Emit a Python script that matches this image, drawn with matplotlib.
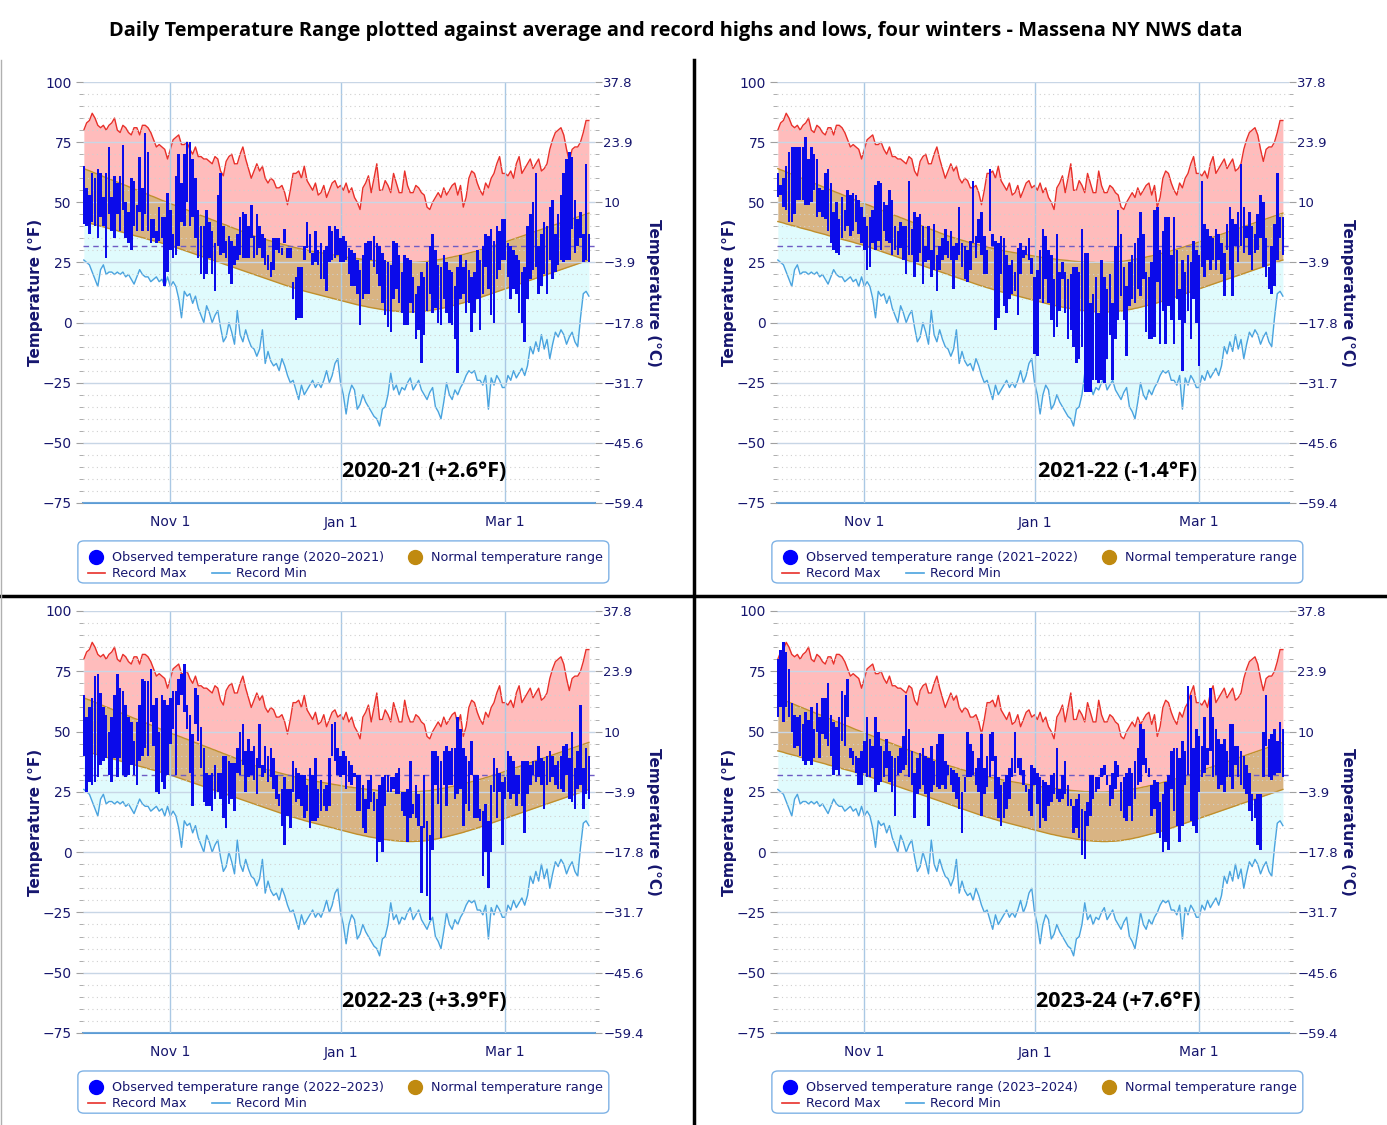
import numpy as np
import matplotlib
matplotlib.use("Agg")
import matplotlib.pyplot as plt
from matplotlib.patches import FancyBboxPatch
from matplotlib.lines import Line2D
from matplotlib.ticker import MultipleLocator

# day index 0 = Oct 1 ... 181 = Mar 31
rec_max = ([80, 83, 84, 87, 85, 82, 81, 82, 80, 82, 83, 85, 80, 79, 82, 81, 79, 78, 81, 81, 78, 82, 82, 81, 79, 76, 73, 74, 73, 72, 68]
           + [72, 76, 77, 78, 74, 74, 75, 72, 70, 73, 69, 69, 68, 68, 67, 66, 69, 68, 63, 61, 67, 69, 70, 66, 66, 70, 73, 68, 64, 60]
           + [63, 66, 63, 65, 60, 58, 60, 59, 56, 56, 57, 54, 49, 55, 62, 62, 63, 60, 65, 59, 57, 55, 58, 53, 54, 57, 52, 55, 58, 59, 56]
           + [57, 55, 58, 54, 56, 52, 50, 47, 56, 58, 61, 54, 60, 66, 55, 55, 59, 57, 54, 62, 58, 54, 54, 63, 57, 54, 54, 57, 56, 54, 53]
           + [48, 47, 50, 52, 54, 52, 56, 53, 55, 57, 58, 53, 57, 48, 52, 60, 63, 62, 58, 55, 53, 58, 56, 60, 62, 66, 69, 62]
           + [62, 61, 63, 60, 66, 69, 62, 64, 66, 68, 64, 66, 68, 63, 64, 66, 72, 76, 79, 80, 81, 78, 72, 67, 72, 73, 73, 75, 79, 84, 84])

rec_min = ([26, 25, 24, 21, 18, 15, 22, 24, 20, 21, 21, 20, 21, 20, 21, 19, 20, 18, 16, 19, 22, 20, 19, 19, 17, 18, 19, 17, 18, 15, 19]
           + [15, 17, 15, 10, 2, 13, 11, 12, 8, 11, 6, 3, 0, 7, 4, 0, 3, 5, -2, -8, -6, 0, -4, -9, 5, -5, -8, -3, -7, -10]
           + [-11, -14, -11, -3, -17, -12, -16, -18, -17, -20, -15, -18, -22, -25, -24, -28, -32, -26, -30, -28, -26, -24, -27, -25, -27, -24, -20, -25, -22, -17, -15]
           + [-25, -30, -38, -30, -26, -28, -36, -34, -30, -33, -35, -37, -39, -40, -43, -36, -35, -30, -21, -28, -26, -30, -27, -28, -25, -23, -28, -26, -24, -28, -30]
           + [-32, -29, -27, -35, -37, -40, -33, -25, -30, -32, -28, -30, -27, -25, -22, -20, -21, -20, -24, -24, -26, -22, -36, -23, -26, -22, -24, -27]
           + [-27, -22, -24, -20, -23, -21, -19, -22, -18, -10, -13, -8, -12, -5, -11, -7, -15, -9, -4, -6, -3, -5, -9, -6, -4, -8, -10, 2, 12, 13, 11])

norm_hi = ([64.0, 63.5, 63.1, 62.6, 62.1, 61.7, 61.2, 60.7, 60.2, 59.8, 59.3, 58.8, 58.4, 57.9, 57.4, 57.0, 56.5, 56.0, 55.5, 55.1, 54.6, 54.1, 53.7, 53.2, 52.7, 52.3, 51.8, 51.3, 50.8, 50.4, 49.9]
           + [49.5, 49.0, 48.6, 48.1, 47.7, 47.2, 46.8, 46.3, 45.9, 45.4, 45.0, 44.5, 44.1, 43.6, 43.2, 42.7, 42.3, 41.8, 41.4, 40.9, 40.5, 40.0, 39.6, 39.1, 38.7, 38.2, 37.8, 37.3, 36.9, 36.4]
           + [36.0, 35.6, 35.3, 34.9, 34.6, 34.2, 33.9, 33.5, 33.2, 32.9, 32.6, 32.3, 32.0, 31.7, 31.4, 31.1, 30.8, 30.6, 30.3, 30.1, 29.8, 29.6, 29.4, 29.2, 29.0, 28.8, 28.6, 28.4, 28.2, 28.0, 27.8]
           + [27.6, 27.4, 27.2, 27.0, 26.9, 26.7, 26.6, 26.4, 26.3, 26.1, 26.0, 25.9, 25.8, 25.6, 25.5, 25.4, 25.3, 25.2, 25.1, 25.1, 25.0, 25.0, 24.9, 24.9, 24.9, 24.9, 25.0, 25.0, 25.1, 25.2, 25.3]
           + [25.4, 25.5, 25.7, 25.9, 26.1, 26.3, 26.5, 26.7, 27.0, 27.2, 27.5, 27.7, 28.0, 28.3, 28.6, 28.9, 29.2, 29.5, 29.8, 30.2, 30.5, 30.9, 31.2, 31.6, 32.0, 32.3, 32.7, 33.1]
           + [33.5, 33.9, 34.3, 34.7, 35.1, 35.5, 35.9, 36.3, 36.7, 37.1, 37.5, 37.9, 38.3, 38.7, 39.1, 39.5, 39.9, 40.3, 40.7, 41.1, 41.5, 41.9, 42.3, 42.7, 43.1, 43.5, 43.9, 44.3, 44.7, 45.1, 45.5])

norm_lo = ([42.0, 41.7, 41.4, 41.0, 40.7, 40.4, 40.1, 39.8, 39.4, 39.1, 38.8, 38.5, 38.2, 37.8, 37.5, 37.2, 36.9, 36.6, 36.2, 35.9, 35.6, 35.3, 35.0, 34.6, 34.3, 34.0, 33.7, 33.4, 33.0, 32.7, 32.4]
           + [32.0, 31.6, 31.2, 30.8, 30.4, 30.0, 29.6, 29.2, 28.8, 28.4, 28.0, 27.6, 27.2, 26.8, 26.4, 26.0, 25.6, 25.2, 24.8, 24.4, 24.0, 23.6, 23.2, 22.8, 22.4, 22.0, 21.6, 21.2, 20.8, 20.4]
           + [20.0, 19.6, 19.2, 18.8, 18.4, 18.0, 17.6, 17.2, 16.8, 16.4, 16.0, 15.6, 15.2, 14.9, 14.5, 14.2, 13.8, 13.5, 13.1, 12.8, 12.5, 12.2, 11.9, 11.6, 11.3, 11.0, 10.7, 10.4, 10.1, 9.8, 9.5]
           + [9.2, 8.9, 8.6, 8.3, 8.0, 7.7, 7.4, 7.2, 6.9, 6.7, 6.4, 6.2, 6.0, 5.8, 5.6, 5.4, 5.2, 5.1, 4.9, 4.8, 4.7, 4.6, 4.5, 4.5, 4.4, 4.4, 4.4, 4.5, 4.5, 4.6, 4.7]
           + [4.8, 5.0, 5.2, 5.4, 5.6, 5.9, 6.1, 6.4, 6.7, 7.0, 7.3, 7.6, 7.9, 8.2, 8.6, 8.9, 9.3, 9.6, 10.0, 10.4, 10.8, 11.2, 11.6, 12.0, 12.4, 12.8, 13.2, 13.6]
           + [14.0, 14.4, 14.8, 15.2, 15.6, 16.0, 16.4, 16.8, 17.2, 17.6, 18.0, 18.4, 18.8, 19.2, 19.6, 20.0, 20.4, 20.8, 21.2, 21.6, 22.0, 22.4, 22.8, 23.2, 23.6, 24.0, 24.4, 24.8, 25.2, 25.6, 26.0])

hi_2021 = ([65, 56, 53, 62, 60, 64, 62, 52, 62, 73, 52, 61, 58, 61, 74, 50, 46, 60, 59, 49, 69, 56, 79, 71, 43, 43, 38, 48, 44, 44, 54]
           + [47, 37, 61, 70, 58, 70, 75, 75, 68, 60, 47, 40, 40, 47, 42, 38, 33, 53, 62, 40, 34, 36, 34, 32, 37, 44, 46, 45, 40, 49]
           + [36, 45, 40, 37, 35, 28, 25, 35, 35, 35, 31, 39, 31, 31, 17, 19, 23, 23, 32, 42, 37, 29, 38, 30, 33, 30, 32, 40, 38, 40, 39]
           + [35, 36, 34, 31, 30, 29, 26, 22, 28, 33, 34, 34, 36, 33, 32, 29, 26, 25, 24, 34, 33, 28, 21, 28, 27, 26, 19, 12, 15, 21, 19]
           + [25, 32, 37, 30, 24, 23, 28, 25, 22, 21, 15, 23, 28, 23, 26, 22, 19, 21, 30, 26, 32, 37, 36, 39, 34, 40, 38, 43]
           + [43, 33, 32, 30, 28, 26, 21, 23, 40, 45, 50, 62, 32, 37, 42, 40, 48, 51, 37, 45, 53, 62, 68, 71, 69, 51, 43, 46, 37, 66, 37])
lo_2021 = ([41, 40, 37, 42, 40, 35, 44, 40, 27, 45, 38, 35, 45, 38, 47, 35, 33, 30, 40, 38, 46, 38, 45, 38, 33, 35, 33, 34, 35, 15, 21]
           + [30, 27, 28, 32, 42, 40, 50, 40, 44, 35, 27, 20, 18, 20, 27, 20, 13, 32, 28, 29, 27, 20, 16, 24, 26, 28, 27, 27, 27, 35]
           + [27, 28, 31, 27, 24, 22, 19, 22, 30, 29, 28, 33, 27, 27, 10, 1, 2, 2, 26, 31, 29, 24, 25, 24, 18, 18, 13, 25, 26, 27, 28]
           + [25, 25, 26, 20, 15, 15, 12, -1, 10, 12, 12, 26, 23, 20, 15, 8, 3, -2, -4, 10, 14, 8, 4, -1, -1, 8, 4, -7, -3, -17, -5]
           + [5, 12, 4, 6, 0, -1, 10, 4, 0, -1, -7, -21, 10, 12, 4, 8, -4, 4, 10, -3, 12, 23, 14, 3, 0, 18, 22, 26]
           + [26, 19, 10, 14, 12, 4, 0, -8, 10, 18, 22, 23, 12, 15, 20, 12, 26, 18, 21, 24, 26, 25, 26, 26, 39, 29, 32, 35, 25, 26, 25])

hi_2122 = ([62, 57, 60, 65, 71, 73, 73, 73, 73, 73, 77, 68, 73, 70, 68, 56, 55, 62, 64, 58, 46, 50, 43, 52, 47, 55, 53, 54, 53, 51, 48]
           + [44, 40, 44, 47, 57, 59, 58, 50, 49, 55, 51, 40, 38, 42, 40, 40, 59, 39, 46, 44, 45, 40, 32, 40, 30, 41, 28, 32, 35, 39]
           + [34, 38, 32, 33, 48, 33, 32, 30, 34, 59, 36, 43, 46, 36, 30, 64, 37, 34, 33, 36, 35, 28, 24, 26, 21, 31, 33, 30, 32, 35, 27]
           + [19, 22, 30, 39, 36, 30, 28, 18, 37, 21, 25, 21, 18, 20, 23, 23, 21, 39, 29, 29, 8, 12, 19, 4, 26, 19, 14, 20, 8, 32, 47]
           + [37, 23, 15, 25, 28, 33, 35, 46, 37, 21, 19, 25, 47, 48, 30, 38, 44, 44, 28, 44, 30, 14, 26, 21, 28, 25, 34, 30]
           + [28, 59, 41, 39, 36, 35, 39, 37, 33, 29, 41, 48, 43, 41, 46, 66, 48, 40, 46, 40, 37, 45, 53, 50, 35, 23, 32, 41, 62, 44, 44])
lo_2122 = ([52, 53, 48, 47, 42, 42, 45, 51, 51, 51, 49, 49, 50, 55, 44, 46, 44, 43, 38, 33, 30, 29, 28, 35, 38, 40, 36, 38, 42, 37, 33]
           + [30, 22, 23, 33, 30, 34, 30, 38, 34, 33, 28, 30, 28, 31, 26, 20, 28, 28, 19, 25, 29, 16, 25, 26, 19, 22, 13, 22, 26, 28]
           + [27, 26, 14, 26, 28, 23, 18, 17, 22, 33, 27, 33, 28, 20, 20, 38, 32, -3, 2, 20, 7, 4, 10, 12, 13, 3, 20, 27, 28, 26, 20]
           + [-13, -14, 10, 8, 18, 8, 1, -6, -2, 5, 18, 4, -7, -3, -10, -17, -15, -10, -29, -29, -29, -24, -24, -25, -24, -25, -15, -5, -24, -7, 1]
           + [11, 1, -14, 7, 10, 8, 14, 11, 18, -4, -7, -7, -6, 17, -9, 5, -9, 7, 1, -9, 10, 1, -20, 0, 5, -7, 10, 0]
           + [-18, 23, 19, 26, 22, 26, 22, 26, 20, 11, 30, 22, 11, 32, 25, 32, 29, 35, 28, 22, 29, 30, 35, 23, 19, 14, 12, 15, 26, 35, 28])

hi_2223 = ([65, 56, 60, 64, 73, 74, 66, 60, 57, 50, 56, 65, 74, 68, 67, 61, 56, 54, 46, 54, 61, 72, 71, 71, 76, 61, 64, 50, 65, 63, 61]
           + [64, 67, 67, 72, 74, 78, 61, 57, 49, 68, 65, 52, 43, 33, 32, 33, 36, 33, 33, 40, 40, 38, 37, 37, 43, 50, 53, 42, 47, 42]
           + [44, 39, 53, 36, 44, 40, 43, 39, 32, 24, 26, 31, 26, 26, 38, 35, 33, 32, 32, 28, 35, 32, 39, 26, 30, 26, 28, 39, 53, 54, 43]
           + [40, 42, 40, 38, 36, 33, 32, 32, 28, 22, 30, 32, 25, 22, 28, 31, 32, 32, 31, 31, 33, 35, 25, 25, 26, 38, 20, 28, 24, 11, 32]
           + [13, 7, 42, 42, 40, 38, 42, 44, 42, 43, 43, 56, 51, 43, 40, 38, 46, 32, 32, 18, 17, 20, 13, 28, 39, 35, 33, 29]
           + [31, 42, 40, 38, 32, 32, 38, 38, 38, 36, 38, 38, 44, 39, 38, 40, 42, 40, 36, 38, 40, 44, 45, 39, 50, 35, 42, 61, 35, 43, 40])
lo_2223 = ([40, 25, 29, 28, 29, 31, 36, 38, 39, 32, 29, 39, 31, 39, 32, 31, 32, 36, 32, 28, 38, 40, 43, 40, 54, 44, 25, 24, 29, 26, 32]
           + [45, 51, 32, 61, 65, 58, 51, 33, 19, 53, 46, 35, 21, 19, 19, 17, 22, 25, 22, 14, 10, 20, 22, 17, 33, 32, 36, 25, 31, 32]
           + [30, 24, 35, 31, 33, 29, 31, 26, 22, 19, 11, 3, 15, 10, 25, 21, 22, 19, 14, 17, 10, 13, 13, 14, 17, 19, 17, 19, 40, 38, 32]
           + [31, 32, 26, 29, 28, 31, 17, 17, 10, 8, 18, 21, 17, -4, 4, 0, 19, 25, 25, 26, 24, 24, 17, 15, 4, 14, 16, 14, 11, -17, 10]
           + [-18, -28, 1, 28, 20, 6, 28, 19, 28, 28, 22, 24, 26, 11, 20, 17, 32, 14, 14, 13, -10, 0, -15, 0, 25, 14, 25, 3]
           + [22, 25, 22, 24, 19, 24, 19, 8, 24, 28, 32, 29, 31, 28, 18, 28, 29, 31, 28, 26, 26, 25, 32, 22, 21, 18, 26, 28, 18, 24, 22])

hi_2324 = ([80, 84, 87, 83, 76, 62, 57, 56, 57, 53, 58, 55, 60, 51, 62, 56, 64, 64, 70, 57, 54, 52, 56, 67, 65, 72, 43, 42, 40, 39, 42]
           + [46, 56, 47, 44, 56, 50, 44, 42, 47, 42, 40, 39, 40, 43, 48, 65, 51, 42, 33, 39, 41, 43, 40, 39, 44, 38, 45, 49, 49, 38]
           + [36, 35, 34, 33, 31, 25, 31, 50, 45, 42, 35, 39, 49, 35, 40, 49, 50, 40, 31, 28, 29, 32, 35, 39, 50, 39, 39, 34, 28, 26, 36]
           + [35, 33, 31, 30, 29, 28, 32, 33, 43, 26, 32, 38, 28, 22, 19, 22, 24, 18, 17, 21, 32, 32, 31, 31, 35, 36, 32, 28, 33, 38, 36]
           + [29, 31, 33, 35, 33, 38, 43, 53, 51, 39, 35, 28, 30, 29, 21, 24, 29, 32, 42, 43, 43, 39, 46, 42, 69, 65, 43, 51]
           + [48, 44, 56, 43, 68, 56, 51, 47, 45, 47, 42, 53, 53, 44, 44, 42, 40, 36, 33, 24, 22, 24, 24, 50, 65, 47, 49, 51, 46, 54, 51])
lo_2324 = ([56, 60, 54, 60, 56, 50, 43, 44, 40, 38, 36, 38, 36, 39, 50, 39, 49, 47, 44, 40, 32, 34, 32, 46, 44, 56, 39, 36, 33, 28, 28]
           + [33, 31, 31, 35, 25, 28, 29, 31, 35, 29, 25, 15, 32, 33, 34, 36, 31, 28, 14, 24, 26, 28, 24, 11, 25, 28, 27, 26, 28, 26]
           + [32, 28, 25, 22, 18, 8, 25, 31, 31, 32, 28, 25, 15, 24, 27, 31, 38, 22, 14, 11, 14, 18, 22, 31, 33, 35, 32, 28, 25, 17, 15]
           + [28, 20, 10, 14, 13, 19, 21, 24, 22, 21, 22, 24, 19, 19, 8, 10, 6, -1, -3, 11, 15, 22, 25, 26, 31, 32, 28, 19, 22, 26, 31]
           + [17, 14, 13, 19, 13, 22, 28, 29, 36, 33, 31, 15, 18, 8, 6, 0, 4, 1, 26, 17, 11, 4, 11, 28, 32, 13, 11, 8]
           + [25, 31, 33, 36, 42, 31, 32, 26, 28, 25, 31, 31, 26, 36, 31, 28, 26, 24, 17, 13, 14, 3, 1, 31, 44, 31, 30, 32, 33, 33, 31])

seasons = ["2020-21 (+2.6°F)", "2021-22 (-1.4°F)", "2022-23 (+3.9°F)", "2023-24 (+7.6°F)"]
year_spans = ["2020–2021", "2021–2022", "2022–2023", "2023–2024"]
obs_hi = [hi_2021, hi_2122, hi_2223, hi_2324]
obs_lo = [lo_2021, lo_2122, lo_2223, lo_2324]

f_ticks = [-75, -50, -25, 0, 25, 50, 75, 100]
f_labels = ["−75", "−50", "−25", "0", "25", "50", "75", "100"]
c_labels = ["−59.4", "−45.6", "−31.7", "−17.8", "−3.9", "10", "23.9", "37.8"]
month_ticks = [31, 92, 151]
month_labels = ["Nov 1", "Jan 1", "Mar 1"]

NAVY = "#16166e"
W, H = 1387, 1125

fig = plt.figure(figsize=(W / 100, H / 100), dpi=100)
fig.patch.set_facecolor("white")


def px_axes(x0, y0, x1, y1):
    return fig.add_axes([x0 / W, 1 - y1 / H, (x1 - x0) / W, (y1 - y0) / H])


def draw_panel(ax, hi, lo, season, years):
    n = len(rec_max)
    x = np.arange(n)
    ax.fill_between(x, rec_max, norm_hi, color="#ffbcbc", lw=0, zorder=1)
    ax.fill_between(x, norm_hi, norm_lo, color="#d9b483", lw=0, zorder=1)
    ax.fill_between(x, norm_lo, rec_min, color="#e0fbfd", lw=0, zorder=1)
    ax.plot(x, norm_hi, color="#c0902c", lw=1, zorder=2)
    ax.plot(x, norm_lo, color="#c0902c", lw=1, zorder=2)
    ax.plot(x, rec_max, color="#e8302a", lw=1, zorder=2.5)
    ax.plot(x, rec_min, color="#4aa3df", lw=1, zorder=2.5)
    ax.axhline(32, color="#6f5cc4", lw=1, ls=(0, (4, 3)), zorder=2)

    hi = np.array(hi, dtype=float)
    lo = np.array(lo, dtype=float)
    xo = np.arange(len(hi))
    ax.bar(xo, np.maximum(hi - lo, 1), bottom=lo, width=0.9, color="#0b0bea", zorder=3)

    ax.set_xlim(-0.3, 183.2)
    ax.set_ylim(-75, 100)
    ax.set_yticks(f_ticks)
    ax.set_yticklabels(f_labels)
    ax.yaxis.set_minor_locator(MultipleLocator(5))
    ax.set_xticks(month_ticks)
    ax.set_xticklabels(month_labels)
    ax.grid(which="major", axis="y", color="#c8d6e6", lw=1, zorder=0.5)
    ax.grid(which="minor", axis="y", color="#d0d0d0", lw=0.8, ls=(0, (1, 3)), zorder=0.5)
    ax.grid(which="major", axis="x", color="#aac8e4", lw=1, zorder=0.5)
    ax.set_axisbelow(False)
    for s in ["top", "left", "right"]:
        ax.spines[s].set_visible(False)
    ax.spines["bottom"].set_color("#5a9bd5")
    ax.spines["bottom"].set_linewidth(1.5)
    ax.tick_params(axis="x", length=0, pad=9, labelsize=10, labelcolor=NAVY)
    ax.tick_params(axis="y", which="major", length=5, color="#a0a0a0", labelsize=10, labelcolor=NAVY, pad=3)
    ax.tick_params(axis="y", which="minor", length=3, color="#a0a0a0")
    ax.set_ylabel("Temperature (°F)", fontsize=11, fontweight="bold", color=NAVY)
    ax.yaxis.set_label_coords(-0.078, 0.5)

    ax2 = ax.twinx()
    ax2.set_ylim(-75, 100)
    ax2.set_yticks(f_ticks)
    ax2.set_yticklabels(c_labels)
    ax2.yaxis.set_minor_locator(MultipleLocator(5))
    for s in ["top", "left", "right", "bottom"]:
        ax2.spines[s].set_visible(False)
    ax2.tick_params(axis="y", which="major", length=5, color="#a0a0a0", labelsize=9.5, labelcolor=NAVY, pad=1)
    ax2.tick_params(axis="y", which="minor", length=3, color="#a0a0a0")
    ax2.set_ylabel("Temperature (°C)", fontsize=11, fontweight="bold", color=NAVY, rotation=270)
    ax2.yaxis.set_label_coords(1.128, 0.5)

    ax.text(0.666, 0.074, season, transform=ax.transAxes, ha="center", va="center",
            fontsize=15.5, fontweight="bold", family="Open Sans", color="black", zorder=5)

    # legend box
    box = FancyBboxPatch((-0.010, -0.190), 1.037, 0.100,
                         boxstyle="round,pad=0,rounding_size=0.012",
                         transform=ax.transAxes, clip_on=False,
                         fc="white", ec="#7fb2e5", lw=1)
    ax.add_patch(box)
    kw = dict(transform=ax.transAxes, clip_on=False)
    fs = 9.2
    ax.plot([0.025], [-0.128], "o", ms=10, color="#0000ff", **kw)
    ax.text(0.056, -0.129, f"Observed temperature range ({years})", va="center",
            fontsize=fs, color=NAVY, **kw)
    ax.plot([0.649], [-0.128], "o", ms=10, color="#c08a10", **kw)
    ax.text(0.679, -0.129, "Normal temperature range", va="center",
            fontsize=fs, color=NAVY, **kw)
    ax.plot([0.009, 0.042], [-0.167, -0.167], color="#e8302a", lw=1.2, **kw)
    ax.text(0.056, -0.168, "Record Max", va="center", fontsize=fs, color=NAVY, **kw)
    ax.plot([0.252, 0.287], [-0.167, -0.167], color="#4aa3df", lw=1.2, **kw)
    ax.text(0.298, -0.168, "Record Min", va="center", fontsize=fs, color=NAVY, **kw)


panel_px = [(83, 82, 595, 503), (777, 82, 1289, 503),
            (83, 611, 595, 1033), (777, 611, 1289, 1033)]

for i in range(4):
    ax = px_axes(*panel_px[i])
    draw_panel(ax, obs_hi[i], obs_lo[i], seasons[i], year_spans[i])

fig.text(676 / W, 1 - 31 / H,
         "Daily Temperature Range plotted against average and record highs and lows, four winters - Massena NY NWS data",
         ha="center", va="center", fontsize=14.4, fontweight="bold", family="Open Sans", color="black")

fig.add_artist(Line2D([694 / W, 694 / W], [0, 1 - 60 / H], color="black", lw=2.5))
fig.add_artist(Line2D([0, 1], [1 - 596 / H, 1 - 596 / H], color="black", lw=2.5))
fig.add_artist(Line2D([0.001, 0.001], [0, 1 - 60 / H], color="#b0b0b0", lw=1))

fig.savefig("out.png", dpi=100, facecolor="white")
